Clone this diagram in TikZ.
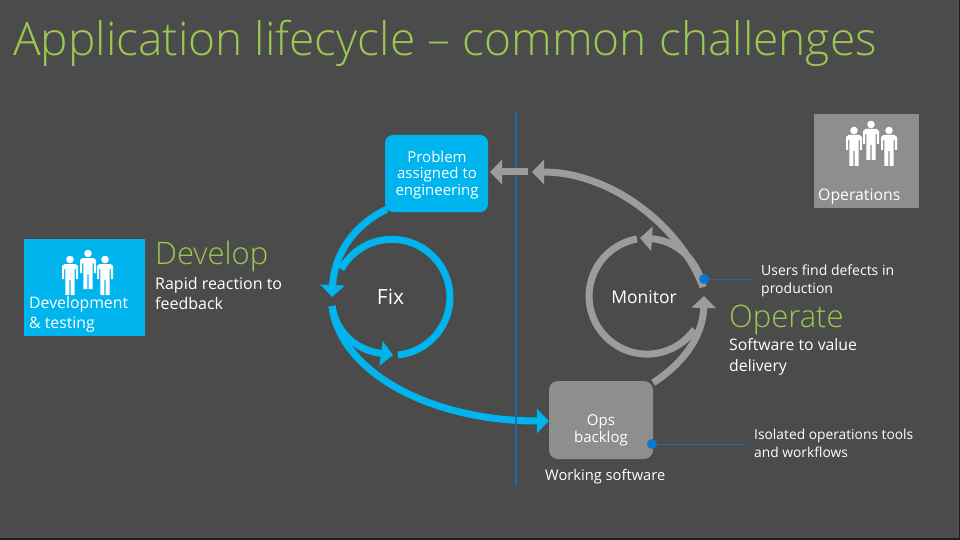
\documentclass[tikz,border=0pt]{standalone}
\usepackage{fontspec}
\setmainfont{Open Sans}
\newfontfamily\lightfont{Open Sans Light}
\usetikzlibrary{arrows.meta,calc}
\definecolor{bg}{HTML}{4B4B4B}
\definecolor{cy}{HTML}{00B4EE}
\definecolor{gy}{HTML}{9C9C9C}
\definecolor{boxg}{HTML}{8E8E8E}
\definecolor{grn}{HTML}{9BC850}
\definecolor{ln}{HTML}{1F6BA8}
\definecolor{dot}{HTML}{0A78D2}
\definecolor{edgec}{HTML}{1E1E1E}
\tikzset{
 x=1pt,y=-1pt,
 lbl/.style={text=white,align=left,anchor=north west,inner sep=0pt},
 ctr/.style={text=white,font=\fontsize{15}{16.5}\selectfont,align=center,inner sep=0pt},
 head/.style={text=grn,font=\lightfont\fontsize{31}{34}\selectfont,anchor=base west,inner sep=0pt},
 cyarrow/.style={draw=cy,line width=7pt,-{Triangle[width=24pt,length=12pt]}},
 gyarrow/.style={draw=gy,line width=7pt,-{Triangle[width=24pt,length=12pt]}},
 cyline/.style={draw=cy,line width=7pt},
 gyline/.style={draw=gy,line width=7pt},
 leader/.style={draw=ln,line width=1pt},
 bluedot/.style={circle,fill=dot,minimum size=10pt,inner sep=0pt},
 person/.pic={\fill[white] (0,3.5) circle (3.8);
  \fill[white] (-5.5,8) -- (5.5,8) -- (8,10) -- (8,23) -- (5.8,23) -- (5.8,13) -- (4.6,13) -- (4.6,39) -- (.6,39) -- (.6,24) -- (-.6,24) -- (-.6,39) -- (-4.6,39) -- (-4.6,13) -- (-5.8,13) -- (-5.8,23) -- (-8,23) -- (-8,10) -- cycle;},
}
\begin{document}
\begin{tikzpicture}
\useasboundingbox (0,0) rectangle (960,540);
\fill[edgec] (0,0) rectangle (960,540);
\fill[bg] (0,0) rectangle (959,538);
\node[text=grn,font=\lightfont\fontsize{46.1}{50}\selectfont,anchor=base west,inner sep=0pt] (title) at (13,56) {Application lifecycle – common challenges};
% divider
\coordinate (divT) at (516,113); \coordinate (divB) at (516,486);
% boxes
\node[fill=cy,rounded corners=8pt,minimum width=103pt,minimum height=77pt,inner sep=0pt] (prob) at (436.5,173.5) {};
\node[ctr] (probl) at (437,175) {Problem\\assigned to\\engineering};
\node[fill=boxg,rounded corners=9pt,minimum width=104pt,minimum height=78pt,inner sep=0pt] (ops) at (601,420) {};
\node[ctr] (opsl) at (601,430.5) {Ops\\backlog};
\node[fill=cy,minimum width=121pt,minimum height=97pt,inner sep=0pt] (dev) at (84.5,287.5) {};
\node[fill=boxg,minimum width=105pt,minimum height=94pt,inner sep=0pt] (opsteam) at (866.5,161) {};
\pic at (105,256) {person}; \pic at (70,256) {person}; \pic at (88,250) {person};
\pic at (889,127) {person}; \pic at (854,127) {person}; \pic at (871,121) {person};
\node[lbl,font=\fontsize{15.8}{20}\selectfont] (devt) at (29,296.5) {Development\\\& testing};
\node[lbl,font=\fontsize{15.8}{20}\selectfont] (opst) at (818,189) {Operations};
% cyan loop
\coordinate (fixTip) at (332,297);
\coordinate (fixTail) at (332,306);
\coordinate (fixEnd) at (393,355);
\coordinate (fixStart) at (398,355);
\draw[cyline] (fixStart) arc[start angle=84,delta angle=-235,radius=58];
\draw[cyarrow] (prob.south west) ++(2,-3) .. controls (352,226) and (334,256) .. (fixTip);
\draw[cyarrow] (fixTail) .. controls (336,332) and (355,350) .. (fixEnd);
\draw[cyarrow] (fixTail) .. controls (340,372) and (430,421) .. (ops.west |- 0,421);
\draw[draw=ln,line width=2pt] (divT) -- (divB);
% grey
\coordinate (monTail) at (703,287);
\coordinate (monUp) at (704,296);
\draw[gyarrow] (monTail) .. controls (680,225) and (610,172) .. (532,172);
\coordinate (backA) at (528,172);
\draw[gyarrow] (backA) -- (490,172);
\draw[gyarrow] (monTail) .. controls (696,255) and (672,240) .. (640,238);
\draw[gyline] (637,239) arc[start angle=-100,delta angle=-225,radius=58];
\draw[gyarrow] (ops.north east) ++(0,2) .. controls (685,362) and (703,335) .. (monUp);
% leaders
\node[bluedot] (d1) at (704,279) {};
\node[bluedot] (d2) at (652,444) {};
\coordinate (l1) at (752,279); \coordinate (l2) at (745,444);
\draw[leader] (d1) -- (l1);
\draw[leader] (d2) -- (l2);
% text
\node[ctr,font=\fontsize{21}{22}\selectfont] (fix) at (390.5,297) {Fix};
\node[ctr,font=\fontsize{17.5}{20}\selectfont] (mon) at (644,297) {Monitor};
\node[head] (dvh) at (155,264) {Develop};
\node[lbl,font=\fontsize{16}{20}\selectfont] (dvb) at (155,277) {Rapid reaction to\\feedback};
\node[head] (oph) at (729,327) {Operate};
\node[lbl,font=\fontsize{15.8}{21}\selectfont] (opb) at (729,338) {Software to value\\delivery};
\node[lbl,font=\fontsize{14}{18}\selectfont] (u) at (761,264.5) {Users find defects in\\production};
\node[lbl,font=\fontsize{13.8}{18}\selectfont] (i) at (754,429) {Isolated operations tools\\and workflows};
\node[lbl,font=\fontsize{14.7}{18}\selectfont] (w) at (545,469) {Working software};
\end{tikzpicture}
\end{document}
